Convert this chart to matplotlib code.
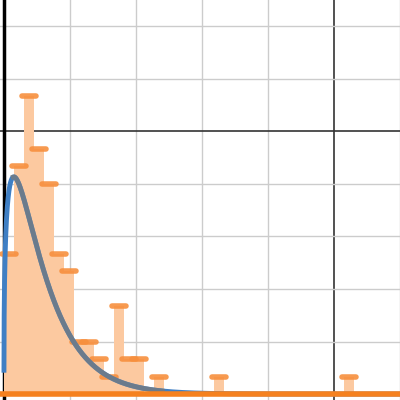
import numpy as np
import matplotlib
matplotlib.use("Agg")
import matplotlib.pyplot as plt

bin_width = 0.1515
counts = [8, 13, 17, 14, 12, 8, 7, 3, 3, 2, 1, 5, 2, 2, 0, 1,
          0, 0, 0, 0, 0, 1, 0, 0, 0, 0, 0, 0, 0, 0, 0, 0, 0, 0, 1]
peak_count = 12.4
shape_k = 1.35
scale_theta = 0.43

fig = plt.figure(figsize=(4, 4), dpi=100)
ax = fig.add_axes([0, 0, 1, 1])
ax.set_xlim(-0.06, 6.0)
ax.set_ylim(-0.34, 22.5)
ax.set_axis_off()

for gx in range(1, 7):
    ax.axvline(gx, color='#333' if gx == 5 else '#ccc', lw=1.2 if gx == 5 else 1, zorder=0)
for gy in range(3, 24, 3):
    ax.axhline(gy, color='#333' if gy == 15 else '#ccc', lw=1.2 if gy == 15 else 1, zorder=0)
ax.axvline(0, color='black', lw=2.5, zorder=1)

lefts = np.arange(len(counts)) * bin_width
ax.bar(lefts, counts, width=bin_width, align='edge', color='#fcc9a0', zorder=2)
for l, c in zip(lefts, counts):
    if c > 0:
        ax.plot([l - 0.03, l + bin_width + 0.03], [c, c], color='#f78f3d', lw=4,
                solid_capstyle='round', alpha=0.9, zorder=3)

m = (shape_k - 1) * scale_theta
x = np.linspace(1e-4, 6, 2000)
y = peak_count * (x / m) ** (shape_k - 1) * np.exp(-(x - m) / scale_theta)
ax.plot(x, y, color='#3f7fc4', lw=3.5, zorder=4)
mask = (x > 0.14) & (x < 2.4)
ax.plot(x[mask], y[mask], color='#7a7a7a', lw=3.5, alpha=0.75, zorder=5)

ax.axhline(0, color='#f5811f', lw=4, zorder=6)
fig.savefig("out.png", dpi=100)
